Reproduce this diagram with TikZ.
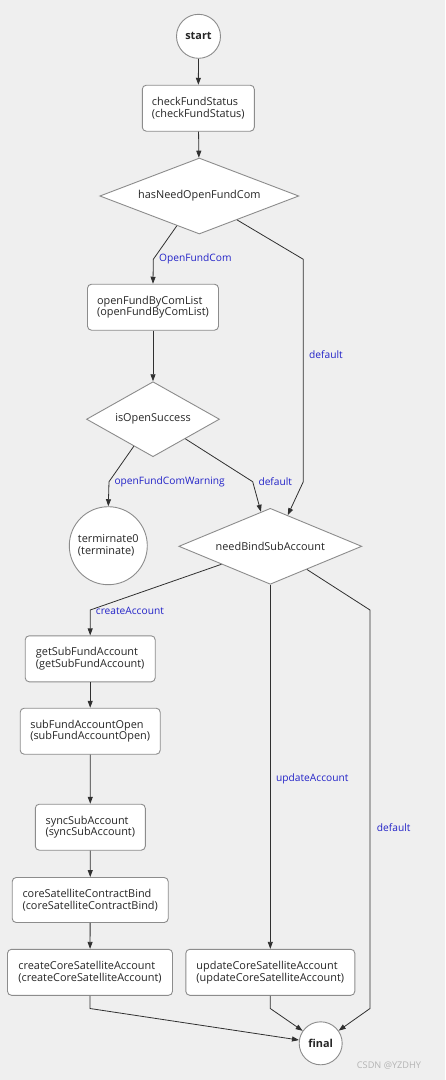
\documentclass[tikz,border=0pt]{standalone}
\usepackage{fontspec}
\setmainfont{Open Sans}
\usetikzlibrary{shapes.geometric,arrows.meta,calc}
\definecolor{bg}{HTML}{EFEFEF}
\definecolor{bord}{HTML}{8C8C8C}
\definecolor{edge}{HTML}{303030}
\definecolor{lab}{HTML}{2323C8}
\definecolor{wm}{HTML}{B4B4B4}
\tikzset{
  box/.style={draw=bord, fill=white, rounded corners=4pt, line width=0.9pt, align=left, inner sep=0pt, font=\fontsize{10.9}{11.8}\selectfont, text=black!85},
  dia/.style={draw=bord, fill=white, diamond, inner sep=0pt, line width=0.9pt, font=\fontsize{10.9}{11.8}\selectfont, text=black!85},
  circ/.style={draw=bord, fill=white, circle, inner sep=0pt, line width=0.9pt, align=left, font=\fontsize{10.9}{11.8}\selectfont, text=black!85},
  arr/.style={draw=edge, line width=0.8pt, -{Triangle[length=7pt,width=5pt]}},
  lbl/.style={anchor=west, text=lab, inner sep=0pt, font=\fontsize{10.2}{11}\selectfont},
}
\begin{document}
\begin{tikzpicture}[x=1pt,y=-1pt]
\fill[bg] (0,0) rectangle (445,1080);
\useasboundingbox (0,0) rectangle (445,1080);

\node[circ, minimum size=44pt, font=\fontsize{10.9}{11.8}\selectfont\bfseries] (start) at (198.5,36.3) {start};
\node[box, minimum width=112pt, minimum height=46pt] (check) at (198.3,108.2) {checkFundStatus\\(checkFundStatus)};
\node[dia, minimum width=199pt, minimum height=76pt, aspect=2.6] (d1) at (199.3,196) {hasNeedOpenFundCom};
\node[box, minimum width=131pt, minimum height=46pt] (ofb) at (153,307.2) {openFundByComList\\(openFundByComList)};
\node[dia, minimum width=133pt, minimum height=75pt, aspect=1.8] (d2) at (153,419.2) {isOpenSuccess};
\node[circ, minimum size=78pt] (term) at (108.3,545.7) {termirnate0\\(terminate)};
\node[dia, minimum width=183pt, minimum height=76pt, aspect=2.4] (d3) at (270.3,546.3) {needBindSubAccount};
\node[box, minimum width=130pt, minimum height=46pt] (get) at (90.2,658.8) {getSubFundAccount\\(getSubFundAccount)};
\node[box, minimum width=140pt, minimum height=46pt] (sub) at (90.2,731.2) {subFundAccountOpen\\(subFundAccountOpen)};
\node[box, minimum width=110pt, minimum height=46pt] (sync) at (90.3,827.2) {syncSubAccount\\(syncSubAccount)};
\node[box, minimum width=156pt, minimum height=45pt] (core) at (90.2,900) {coreSatelliteContractBind\\(coreSatelliteContractBind)};
\node[box, minimum width=165pt, minimum height=46pt] (cca) at (90,972.3) {createCoreSatelliteAccount\\(createCoreSatelliteAccount)};
\node[box, minimum width=169pt, minimum height=46pt] (uca) at (270.3,972.3) {updateCoreSatelliteAccount\\(updateCoreSatelliteAccount)};
\node[circ, minimum size=43pt, font=\fontsize{10.9}{11.8}\selectfont\bfseries] (final) at (320.7,1043.3) {final};

\coordinate (b1) at (153.3,259.3);
\coordinate (b2a) at (303.3,259.3);
\coordinate (b2b) at (303.3,481.7);
\coordinate (b3) at (109,481.7);
\coordinate (b4) at (252.7,481.7);
\coordinate (b5) at (90.2,610);
\coordinate (b6a) at (370,610);
\coordinate (b6b) at (370,1008.5);
\coordinate (b7) at (90,1008.5);
\coordinate (b8) at (270.3,1008.5);

\draw[arr] (start) -- (check);
\draw[arr] (check) -- (d1);
\draw[arr] ($(d1.west)!0.775!(d1.south)$) -- (b1) -- (ofb.north);
\draw[arr] ($(d1.south)!0.378!(d1.east)$) -- (b2a) -- (b2b) -- ($(d3.north)!0.19!(d3.east)$);
\draw[arr] (ofb) -- (d2);
\draw[arr] ($(d2.west)!0.713!(d2.south)$) -- (b3) -- (term.north);
\draw[arr] ($(d2.south)!0.483!(d2.east)$) -- (b4) -- ($(d3.west)!0.898!(d3.north)$);
\draw[arr] ($(d3.west)!0.468!(d3.south)$) -- (b5) -- (get.north);
\draw[arr] (d3.south) -- (uca.north);
\draw[arr] ($(d3.south)!0.398!(d3.east)$) -- (b6a) -- (b6b) -- (final);
\draw[arr] (get) -- (sub);
\draw[arr] (sub) -- (sync);
\draw[arr] (sync) -- (core);
\draw[arr] (core) -- (cca);
\draw[arr] (cca.south) -- (b7) -- (final);
\draw[arr] (uca.south) -- (b8) -- (final);

\node[lbl] (l1) at (159,259.3) {OpenFundCom};
\node[lbl] (l2) at (309,355) {default};
\node[lbl] (l3) at (114.3,481.7) {openFundComWarning};
\node[lbl] (l4) at (258.3,481.7) {default};
\node[lbl] (l5) at (95.7,610.5) {createAccount};
\node[lbl] (l6) at (276,779) {updateAccount};
\node[lbl] (l7) at (376.7,827.3) {default};
\node[anchor=west, text=wm, inner sep=0pt, font=\fontsize{9.2}{10}\selectfont] (wmk) at (356.7,1066) {CSDN @YZDHY};
\end{tikzpicture}
\end{document}
